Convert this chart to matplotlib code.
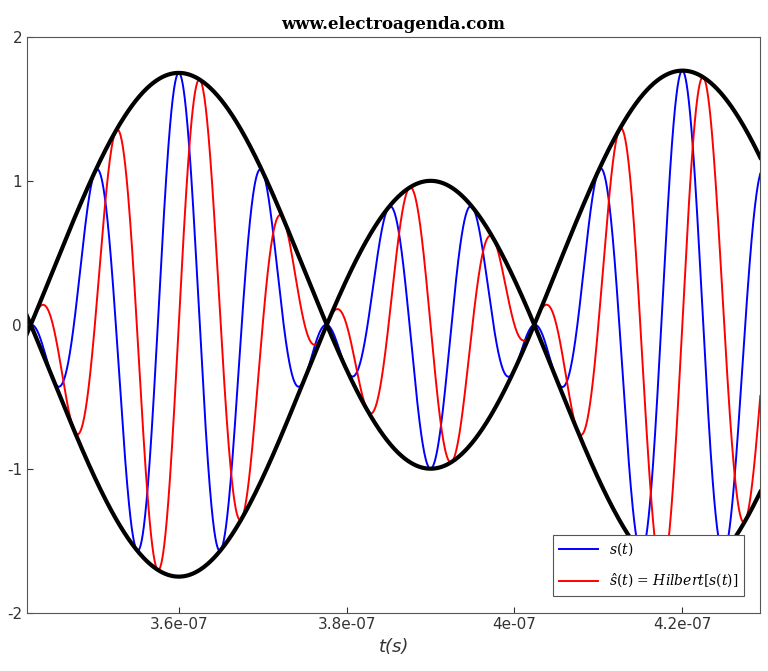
import numpy as np
import matplotlib
matplotlib.use("Agg")
import matplotlib.pyplot as plt

plt.rcParams['mathtext.fontset'] = 'dejavuserif'
plt.rcParams['axes.unicode_minus'] = False

# values
tStart, tEnd = 3.419e-7, 4.293e-7
envOffset = 0.375       # envelope: offset + amp*cos(...) + slope*tau
envAmp = -1.375
envSlope = 0.1e7
envPeriod = 0.6e-7
envCenter = 3.9e-7
carrierFreq = 1e8
xTicks = [3.6e-7, 3.8e-7, 4e-7, 4.2e-7]
xTickLabels = ['3.6e-07', '3.8e-07', '4e-07', '4.2e-07']
yTicks = [-2, -1, 0, 1, 2]

t = np.linspace(tStart, tEnd, 4000)
tau = t - envCenter
envelope = envOffset + envAmp * np.cos(2 * np.pi * tau / envPeriod)
envelope = envelope * (1 + envSlope * np.clip(tau, 0, None) * 0.3)
signal = envelope * np.cos(2 * np.pi * carrierFreq * tau)
hilbert = envelope * np.sin(2 * np.pi * carrierFreq * tau)

fig, ax = plt.subplots(figsize=(7.68, 6.71), dpi=100)
fig.subplots_adjust(left=0.035, right=0.99, top=0.945, bottom=0.087)

ax.plot(t, signal, color='blue', lw=1.4, label='$s(t)$')
ax.plot(t, hilbert, color='red', lw=1.4, label=r'$\hat{s}(t)$ = $Hilbert[s(t)]$')
ax.plot(t, envelope, color='black', lw=3)
ax.plot(t, -envelope, color='black', lw=3)

ax.set_xlim(tStart, tEnd)
ax.set_ylim(-2, 2)
ax.set_xticks(xTicks)
ax.set_xticklabels(xTickLabels)
ax.set_yticks(yTicks)
ax.tick_params(direction='in', labelsize=11, colors='#333333', length=4)
for sp in ax.spines.values():
    sp.set_color('#555555')
    sp.set_linewidth(0.8)

ax.set_title('www.electroagenda.com', fontfamily='DejaVu Serif', fontweight='bold', fontsize=12)
ax.set_xlabel('t(s)', fontstyle='italic', fontsize=13, color='#333333')

leg = ax.legend(loc='lower right', prop={'family': 'DejaVu Serif', 'style': 'italic', 'size': 10},
                fancybox=False, edgecolor='#555555', framealpha=1, handlelength=2.8,
                borderaxespad=1.2, labelspacing=1.0)
leg.get_frame().set_linewidth(0.8)

fig.savefig('out.png')
